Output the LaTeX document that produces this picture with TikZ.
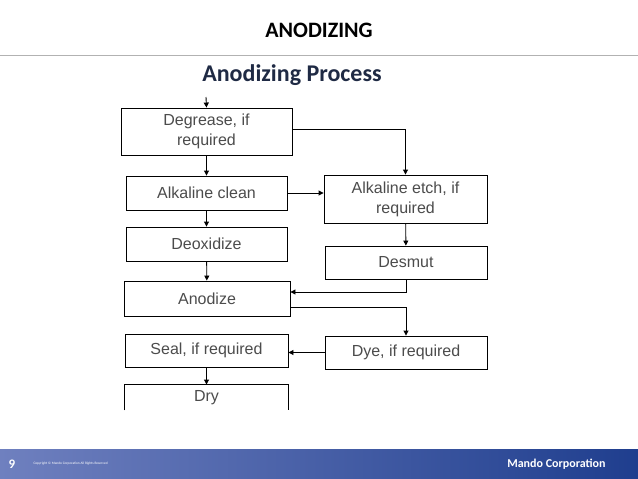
\documentclass[tikz,border=0pt]{standalone}
\usepackage{fontspec}
\setmainfont{Liberation Sans}
\newfontfamily\calfont{Carlito}
\usetikzlibrary{arrows.meta}
\definecolor{bandL}{HTML}{6F80BF}
\definecolor{bandR}{HTML}{1F3E8E}
\definecolor{navy}{HTML}{1F2A44}
\begin{document}
\begin{tikzpicture}[x=1pt,y=-1pt,
  bx/.style={draw=black,line width=0.9pt,inner sep=0pt,font=\fontsize{16}{20}\selectfont,text=black!70,align=center},
  ar/.style={line width=0.9pt,-{Triangle[length=5pt,width=5pt]}}]
\useasboundingbox (0,0) rectangle (638,479);
\fill[white] (0,0) rectangle (638,479);
\node[font=\calfont\bfseries\fontsize{22}{24}\selectfont] (t) at (319,30) {ANODIZING};
\draw[gray!60,line width=1pt] (0,55) -- (638,55);
\node[font=\calfont\bfseries\fontsize{24}{26}\selectfont,text=navy] (st) at (292,75) {Anodizing Process};
\shade[left color=bandL,right color=bandR] (0,449) rectangle (638,479);
\node[font=\calfont\bfseries\fontsize{13}{15}\selectfont,text=white] (pg) at (12,464) {9};
\node[font=\calfont\fontsize{3.5}{4}\selectfont,text=white!85,anchor=west] (cp) at (30,464) {Copyright © Mando Corporation All Rights Reserved};
\node[font=\calfont\bfseries\fontsize{12}{14}\selectfont,text=white,anchor=east] (mc) at (609,464) {Mando Corporation};
% boxes
\node[bx,minimum width=171,minimum height=47] (deg) at (206.5,131.5) {Degrease, if\\required};
\node[bx,minimum width=161,minimum height=34] (alk) at (206.5,193) {Alkaline clean};
\node[bx,minimum width=161,minimum height=34] (deo) at (206.5,244) {Deoxidize};
\node[bx,minimum width=166,minimum height=35] (ano) at (207,298.5) {Anodize};
\node[bx,minimum width=163,minimum height=33] (seal) at (206.5,350.5) {Seal, if required};
\node[bx,draw=none,minimum width=163,minimum height=25] (dry) at (206.5,397.5) {Dry};
\draw[line width=0.9pt] (dry.south west) -- (dry.north west) -- (dry.north east) -- (dry.south east);
\node[bx,minimum width=163,minimum height=48] (etch) at (405.5,199) {Alkaline etch, if\\required};
\node[bx,minimum width=162,minimum height=33] (des) at (406,262.5) {Desmut};
\node[bx,minimum width=162,minimum height=33] (dye) at (406,352.5) {Dye, if required};
\coordinate (in) at (206,97);
% connectors
\draw[ar] (in) -- (deg.north);
\draw[ar] (deg) -- (alk);
\draw[ar] (alk) -- (deo);
\draw[ar] (deo) -- (ano);
\draw[ar] (seal) -- (dry);
\draw[ar] (deg.east |- 0,129) -| (etch.north);
\draw[ar] (alk.east) -- (alk.east -| etch.west);
\draw[ar] (etch) -- (des);
\draw[ar] (des.south) |- (ano.east |- 0,292);
\draw[ar] (ano.east |- 0,307) -| (dye.north);
\draw[ar] (dye.west) -- (dye.west -| seal.east);
\end{tikzpicture}
\end{document}
